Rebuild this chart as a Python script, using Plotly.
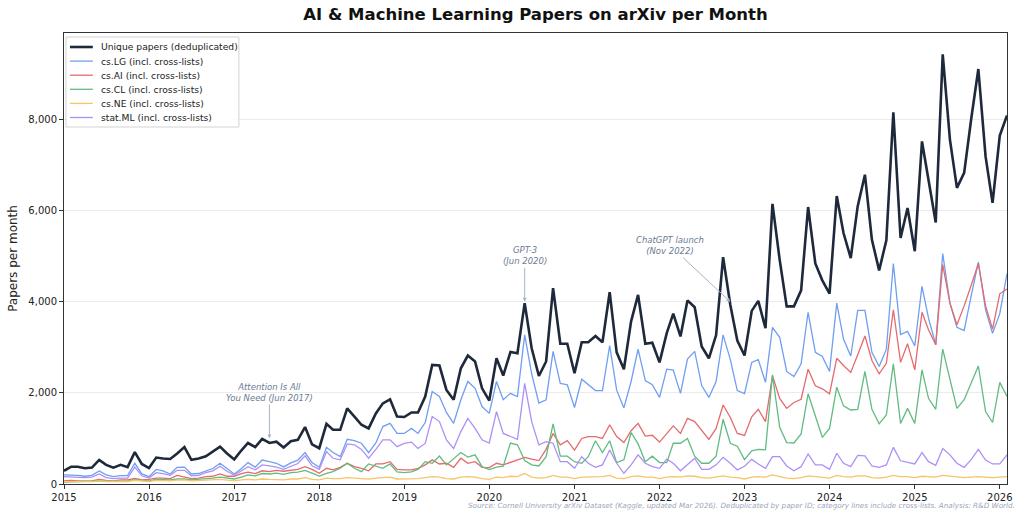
import pandas as pd
import plotly.graph_objects as go

start_month = "2015-01-01"

unique_papers = [
    290, 380, 380, 345, 360, 530, 420, 360, 420, 370, 700, 440,
    350, 580, 560, 550, 670, 810, 530, 560, 610, 720, 820, 670,
    540, 740, 900, 810, 990, 900, 930, 800, 940, 970, 1250, 870,
    785, 1320, 1190, 1190, 1660, 1480, 1300, 1220, 1550, 1770, 1860, 1480,
    1470, 1570, 1570, 1920, 2615, 2600, 2065, 1850, 2540, 2820, 2690, 2100,
    1830, 2760, 2380, 2900, 2870, 3970, 2980, 2370, 2690, 4300, 3080, 3080,
    2430, 3110, 3110, 3250, 3110, 4210, 2890, 2520, 3570, 4150, 3080, 3100,
    2670, 3310, 3740, 3240, 4030, 3880, 3020, 2760, 3270, 4980, 3930, 3150,
    2820, 3800, 4020, 3420, 6150, 4920, 3900, 3900, 4250, 6080, 4840, 4470,
    4180, 6320, 5510, 4960, 6100, 6790, 5360, 4690, 5350, 8160, 5400, 6060,
    5110, 7520, 6680, 5740, 9430, 7560, 6500, 6830, 8040, 9110, 7190, 6170,
    7650, 8090,
]

cs_lg = [
    200, 200, 190, 170, 190, 285, 200, 160, 185, 185, 455, 220,
    160, 320, 290, 220, 365, 370, 220, 230, 285, 340, 455, 340,
    220, 340, 470, 370, 525, 490, 455, 375, 465, 525, 690, 470,
    365, 805, 690, 600, 980, 950, 895, 690, 900, 1260, 1330, 1110,
    1110, 1220, 1110, 1350, 2030, 1920, 1570, 1330, 1850, 2250, 2100, 1700,
    1550, 2250, 1850, 1990, 1920, 3275, 2420, 1775, 1850, 2910, 2210, 2180,
    1680, 2300, 2180, 2050, 2050, 3040, 2060, 1670, 2250, 2960, 2270, 2180,
    1900, 2520, 2500, 1990, 2740, 2910, 2160, 1900, 2250, 3275, 2730, 2050,
    1985, 2670, 2730, 2230, 3440, 3220, 2470, 2360, 2640, 3770, 2890, 2800,
    2470, 3970, 3180, 2810, 3810, 3810, 2890, 2580, 2960, 4840, 3280, 3350,
    3030, 4340, 3640, 3055, 5060, 3970, 3440, 3370, 4150, 4870, 3820, 3310,
    3740, 4620,
]

cs_ai = [
    70, 80, 70, 60, 70, 100, 80, 70, 90, 90, 120, 90,
    100, 130, 130, 120, 190, 160, 120, 130, 160, 170, 220, 170,
    170, 230, 260, 230, 290, 270, 300, 280, 300, 320, 380, 320,
    235, 345, 310, 365, 455, 380, 345, 290, 440, 440, 490, 320,
    310, 310, 345, 420, 530, 440, 455, 365, 565, 455, 490, 365,
    360, 455, 420, 470, 530, 585, 545, 515, 760, 1110, 860, 950,
    745, 1000, 1040, 1040, 1000, 1300, 1040, 910, 1170, 1330, 1050, 1070,
    920, 1110, 1275, 1110, 1440, 1370, 1180, 980, 1220, 1735, 1460, 1110,
    1065, 1475, 1640, 1370, 2375, 1880, 1660, 1790, 1860, 2520, 2155, 2090,
    1980, 2760, 2600, 2450, 2835, 3250, 2710, 2420, 2650, 3825, 2670, 3080,
    2505, 3770, 3385, 3055, 4815, 3970, 3495, 3910, 4375, 4840, 3910, 3400,
    4175, 4280,
]

cs_cl = [
    40, 50, 50, 60, 60, 70, 60, 60, 70, 70, 90, 80,
    70, 100, 100, 90, 110, 110, 90, 100, 120, 130, 150, 130,
    110, 150, 200, 180, 230, 220, 240, 210, 250, 260, 300, 240,
    175, 235, 270, 345, 455, 345, 270, 440, 395, 345, 440, 265,
    250, 265, 320, 490, 455, 615, 420, 545, 690, 590, 640, 380,
    315, 370, 390, 900, 860, 515, 420, 395, 600, 1320, 610, 610,
    490, 455, 600, 950, 690, 950, 470, 530, 1130, 880, 490, 610,
    470, 470, 895, 895, 1000, 610, 455, 455, 610, 1420, 895, 830,
    535, 730, 760, 750, 2395, 1245, 910, 900, 1100, 1980, 1495, 1025,
    1220, 2125, 1715, 1625, 1640, 2470, 1640, 1320, 1515, 2640, 1330, 1660,
    1330, 2505, 1880, 1640, 2960, 2270, 1660, 1850, 2230, 2590, 1590, 1350,
    2230, 1920,
]

cs_ne = [
    50, 55, 50, 55, 50, 70, 55, 50, 60, 55, 80, 60,
    55, 80, 75, 70, 85, 90, 70, 75, 85, 90, 100, 85,
    70, 90, 100, 90, 110, 100, 100, 90, 110, 110, 140, 100,
    90, 130, 120, 120, 140, 130, 110, 105, 130, 140, 150, 110,
    110, 120, 120, 140, 160, 150, 120, 110, 150, 160, 150, 120,
    100, 150, 140, 170, 160, 230, 150, 130, 140, 190, 150, 150,
    120, 150, 150, 160, 160, 190, 130, 120, 160, 180, 150, 150,
    120, 150, 160, 150, 180, 170, 140, 130, 150, 180, 150, 140,
    110, 150, 160, 150, 200, 160, 130, 120, 140, 180, 160, 150,
    130, 190, 160, 150, 180, 180, 140, 130, 150, 190, 160, 160,
    140, 170, 160, 150, 190, 170, 150, 140, 150, 160, 150, 140,
    150, 160,
]

stat_ml = [
    160, 150, 150, 140, 150, 220, 140, 120, 130, 130, 370, 180,
    130, 250, 230, 190, 300, 300, 180, 190, 250, 290, 390, 280,
    190, 290, 380, 310, 420, 400, 370, 320, 380, 450, 620, 400,
    320, 710, 565, 530, 880, 860, 760, 565, 760, 970, 970, 820,
    890, 920, 780, 890, 1480, 1370, 970, 780, 1150, 1440, 1220, 970,
    900, 1590, 1110, 1040, 980, 2210, 1370, 860, 930, 895, 490, 490,
    345, 600, 455, 365, 420, 745, 455, 235, 420, 640, 455, 380,
    345, 545, 455, 290, 420, 565, 320, 320, 420, 585, 455, 310,
    390, 540, 440, 345, 600, 600, 395, 290, 380, 660, 420, 420,
    320, 675, 455, 380, 630, 620, 395, 365, 420, 805, 510, 470,
    440, 690, 490, 410, 780, 640, 455, 365, 540, 760, 525, 440,
    440, 640,
]

series_names = [
    "Unique papers (deduplicated)",
    "cs.LG (incl. cross-lists)",
    "cs.AI (incl. cross-lists)",
    "cs.CL (incl. cross-lists)",
    "cs.NE (incl. cross-lists)",
    "stat.ML (incl. cross-lists)",
]

events = [
    ("2017-06-01", 1000, "Attention Is All<br>You Need (Jun 2017)", 0, -46),
    ("2020-06-01", 4000, "GPT-3<br>(Jun 2020)", 0, -46),
    ("2022-11-01", 4000, "ChatGPT launch<br>(Nov 2022)", -60, -56),
]

months = pd.date_range(start_month, periods=len(unique_papers), freq="MS")

FONT = "DejaVu Sans"
colors = ["#1e293b", "#6f9ef2", "#e56a6c", "#62bb80", "#f7c466", "#ad90f6"]
widths = [2.6, 1.3, 1.3, 1.3, 1.3, 1.3]
data = [unique_papers, cs_lg, cs_ai, cs_cl, cs_ne, stat_ml]

W, H = 1024, 516
ML, MR, MT, MB = 61, 14, 33, 32
PW, PH = W - ML - MR, H - MT - MB


def px(x):
    return (x - ML) / PW


def py(y):
    return (H - MB - y) / PH


fig = go.Figure()
order = [1, 2, 3, 4, 5, 0]
for k in order:
    fig.add_trace(go.Scatter(
        x=months, y=data[k], mode="lines", name=series_names[k],
        line=dict(color=colors[k], width=widths[k]),
        showlegend=False,
    ))

# legend (compact, matplotlib-like)
fig.add_shape(type="rect", xref="paper", yref="paper",
              x0=px(63), x1=px(237), y0=py(127), y1=py(37),
              line=dict(color="#d3d3d3", width=1), fillcolor="rgba(255,255,255,0.9)",
              layer="above")
for j, name in enumerate(series_names):
    yy = 47 + j * 14.1
    fig.add_shape(type="line", xref="paper", yref="paper",
                  x0=px(67), x1=px(90), y0=py(yy), y1=py(yy),
                  line=dict(color=colors[j], width=widths[j]), layer="above")
    fig.add_annotation(xref="paper", yref="paper", x=px(96), y=py(yy),
                       xanchor="left", yanchor="middle", text=name, showarrow=False,
                       font=dict(family=FONT, size=9.2, color="#222"))

for d, v, txt, ax, ay in events:
    fig.add_annotation(
        x=d, y=v, xref="x", yref="y", text="<i>" + txt + "</i>",
        showarrow=True, ax=ax, ay=ay, arrowhead=2, arrowsize=0.8,
        arrowwidth=1, arrowcolor="#a8b4c6",
        font=dict(family=FONT, size=8.5, color="#6b7a92"),
        align="center",
    )

fig.add_annotation(
    xref="paper", yref="paper", x=px(1020), y=py(505), xanchor="right", yanchor="middle",
    text="<i>Source: Cornell University arXiv Dataset (Kaggle, updated Mar 2026). Deduplicated by paper ID; category lines include cross-lists. Analysis: R&D World.</i>",
    showarrow=False, font=dict(family=FONT, size=7.2, color="#9aa6bb"),
)

fig.update_layout(
    width=W, height=H,
    margin=dict(l=ML, r=MR, t=MT, b=MB),
    paper_bgcolor="white", plot_bgcolor="white",
    font=dict(family=FONT, size=10, color="#222"),
    title=dict(text="<b>AI & Machine Learning Papers on arXiv per Month</b>",
               x=0.5, xref="paper", xanchor="center",
               y=1 - 14 / H, yref="container", yanchor="middle",
               font=dict(family=FONT, size=16.5, color="#111")),
    showlegend=False,
    xaxis=dict(
        range=[months[0], months[-1]], type="date",
        tick0=start_month, dtick="M12", tickformat="%Y",
        showgrid=False, ticks="outside", ticklen=4, tickcolor="#333",
        showline=True, linecolor="#333", linewidth=1, mirror=True,
        tickfont=dict(family=FONT, size=10, color="#222"),
        zeroline=False,
    ),
    yaxis=dict(
        range=[0, 9900], tickvals=[0, 2000, 4000, 6000, 8000],
        tickformat=",d", showgrid=True, gridcolor="#ebebeb", gridwidth=1,
        ticks="outside", ticklen=4, tickcolor="#333",
        showline=True, linecolor="#333", linewidth=1, mirror=True,
        tickfont=dict(family=FONT, size=10, color="#222"),
        title=dict(text="Papers per month", font=dict(family=FONT, size=12, color="#222"), standoff=8),
        zeroline=False,
    ),
)

fig.write_html("out.html", config={"displayModeBar": False})
